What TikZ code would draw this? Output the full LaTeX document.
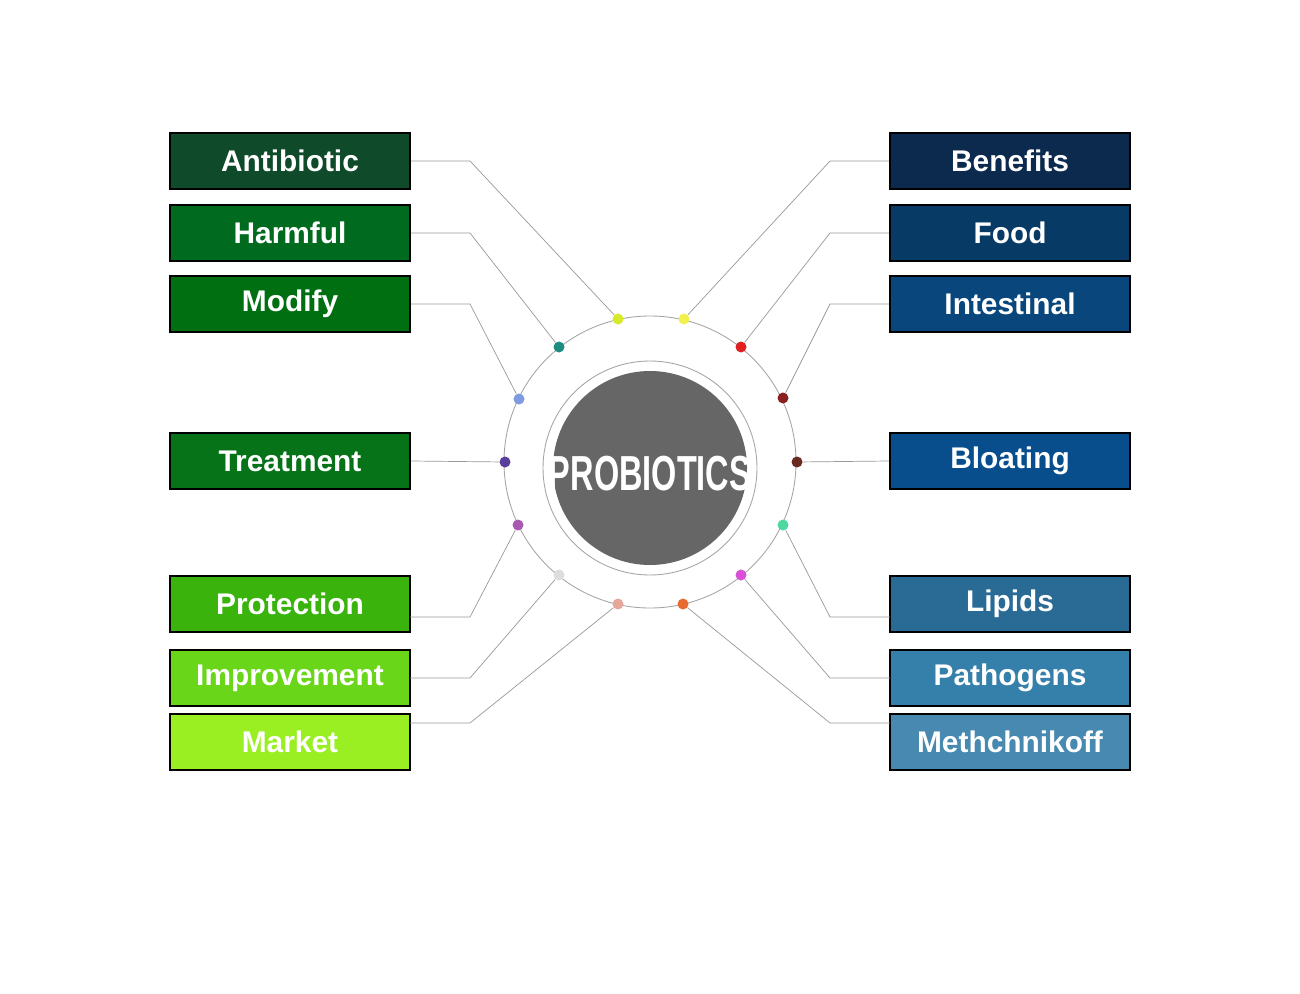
\documentclass[tikz,border=0pt]{standalone}
\usepackage{fontspec}
\usepackage{graphicx}
\setmainfont{Liberation Sans}
\begin{document}
\begin{tikzpicture}[x=0.02cm,y=-0.02cm,
  box/.style={draw=black,line width=1.2pt,minimum width=240*0.02cm,minimum height=56*0.02cm,inner sep=0pt,text=white,font=\fontsize{17}{20}\selectfont\bfseries},
  dot/.style={circle,fill=#1,inner sep=0pt,minimum size=0.22cm},
  link/.style={draw=gray!80,line width=0.4pt}]
\useasboundingbox[fill=white] (0,0) rectangle (1300,993);
\draw[gray!70,line width=0.5pt] (650,462) circle (146*0.02cm);
\draw[gray!70,line width=0.5pt] (650,468) circle (107*0.02cm);
\fill[black!60] (650,468) circle (97*0.02cm);
\node[text=white,font=\fontsize{28}{30}\selectfont\bfseries,inner sep=0pt] (c) at (650,474) {\scalebox{0.66}[1]{PROBIOTICS}};
% left boxes
\foreach \n/\t/\y/\c in {a/Antibiotic/161/0f4a2a,b/Harmful/233/006a1e,m/Modify/304/006f12,t/Treatment/461/067318,p/Protection/604/3bb30d,i/Improvement/678/6ad61a,k/Market/742/9aef22}{
  \definecolor{col\n}{HTML}{\c}
  \node[box,fill=col\n] (L\n) at (290,\y) {\t};}
\foreach \n/\t/\y/\c in {a/Benefits/161/0b2a4d,b/Food/233/083a66,m/Intestinal/304/08467c,t/Bloating/461/084e8c,p/Lipids/604/2a6b96,i/Pathogens/678/3580aa,k/Methchnikoff/742/4789b0}{
  \definecolor{rcol\n}{HTML}{\c}
  \node[box,fill=rcol\n] (R\n) at (1010,\y) {\t};}
% dots
\definecolor{d1}{HTML}{D6EA2A}\definecolor{d2}{HTML}{1E8C80}\definecolor{d3}{HTML}{7E9AE0}
\definecolor{d4}{HTML}{5A3E9A}\definecolor{d5}{HTML}{A85AB0}\definecolor{d6}{HTML}{DDDDDD}
\definecolor{d7}{HTML}{E6A69A}
\definecolor{e1}{HTML}{F2F04A}\definecolor{e2}{HTML}{E02020}\definecolor{e3}{HTML}{8A2020}
\definecolor{e4}{HTML}{6A2A20}\definecolor{e5}{HTML}{4ED8A0}\definecolor{e6}{HTML}{D850D8}
\definecolor{e7}{HTML}{E86A30}
\node[dot=d1] (D1) at (618,319) {};
\node[dot=d2] (D2) at (559,347) {};
\node[dot=d3] (D3) at (519,399) {};
\node[dot=d4] (D4) at (505,462) {};
\node[dot=d5] (D5) at (518,525) {};
\node[dot=d6] (D6) at (559,575) {};
\node[dot=d7] (D7) at (618,604) {};
\node[dot=e1] (E1) at (684,319) {};
\node[dot=e2] (E2) at (741,347) {};
\node[dot=e3] (E3) at (783,398) {};
\node[dot=e4] (E4) at (797,462) {};
\node[dot=e5] (E5) at (783,525) {};
\node[dot=e6] (E6) at (741,575) {};
\node[dot=e7] (E7) at (683,604) {};
% connectors
\draw[link] (La.east) -- (470,161) -- (D1);
\draw[link] (Lb.east) -- (470,233) -- (D2);
\draw[link] (Lm.east) -- (470,304) -- (D3);
\draw[link] (Lt.east) -- (D4);
\draw[link] (410,617) -- (470,617) -- (D5);
\draw[link] (410,678) -- (470,678) -- (D6);
\draw[link] (410,723) -- (470,723) -- (D7);
\draw[link] (Ra.west) -- (830,161) -- (E1);
\draw[link] (Rb.west) -- (830,233) -- (E2);
\draw[link] (Rm.west) -- (830,304) -- (E3);
\draw[link] (Rt.west) -- (E4);
\draw[link] (890,617) -- (830,617) -- (E5);
\draw[link] (890,678) -- (830,678) -- (E6);
\draw[link] (890,723) -- (830,723) -- (E7);
\end{tikzpicture}
\end{document}
